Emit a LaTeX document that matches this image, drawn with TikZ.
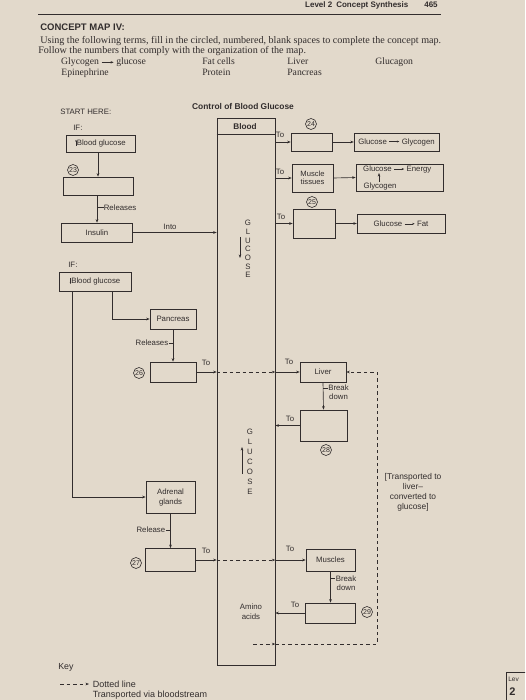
\documentclass[tikz,border=0pt]{standalone}
\usepackage{fontspec}
\setmainfont{Liberation Serif}
\setsansfont{Liberation Sans}
\usetikzlibrary{arrows.meta,calc}
\definecolor{paper}{RGB}{226,217,203}
\definecolor{ink}{RGB}{50,45,45}
\newcommand\rarr{\tikz[baseline=-0.6ex,x=1pt,y=1pt]\draw[-{Stealth[length=2.5pt,width=2pt]},line width=0.5pt,ink](0,0)--(10,0);}
\newcommand\uarr{\tikz[baseline=0pt,x=1pt,y=1pt]\draw[-{Stealth[length=1.8pt,width=1.6pt]},line width=0.5pt,ink](0,0)--(0,6);}
\newcommand\darr{\tikz[baseline=0pt,x=1pt,y=1pt]\draw[-{Stealth[length=1.8pt,width=1.6pt]},line width=0.5pt,ink](0,6)--(0,0);}
\begin{document}
\begin{tikzpicture}[x=1pt,y=-1pt,line width=0.65pt,color=ink,
  box/.style={draw=ink,rectangle,inner sep=0pt,font=\sffamily\fontsize{7.8}{9}\selectfont,align=center},
  num/.style={draw=ink,circle,inner sep=0pt,minimum size=11pt,line width=0.6pt,font=\sffamily\fontsize{7}{7}\selectfont},
  lab/.style={font=\sffamily\fontsize{7.8}{9}\selectfont,inner sep=0pt,align=center},
  arr/.style={-{Stealth[length=3.5pt,width=2.6pt]}},
  dashline/.style={dash pattern=on 3.5pt off 3pt,line width=0.75pt},
  serif/.style={font=\fontsize{10.1}{11}\selectfont,inner sep=0pt,anchor=base west},
  term/.style={font=\fontsize{9.7}{11}\selectfont,inner sep=0pt,anchor=base west}]
\useasboundingbox (0,0) rectangle (525,700);
\fill[paper] (0,0) rectangle (525,700);
\begin{scope}
\clip (0,0) rectangle (525,700);
% page header
\node[anchor=base east,inner sep=0pt,font=\sffamily\bfseries\fontsize{8}{8}\selectfont] (hdr) at (438,8) {Level 2\enspace Concept Synthesis\qquad 465};
\draw[line width=0.9pt] (38,14.5) -- (441,14.5);
\node[anchor=base west,inner sep=0pt,font=\sffamily\bfseries\fontsize{9.5}{10}\selectfont] (title) at (40,30.5) {CONCEPT MAP IV:};
\node[serif] (ins1) at (40,44) {Using the following terms, fill in the circled, numbered, blank spaces to complete the concept map.};
\node[serif] (ins2) at (38,53.5) {Follow the numbers that comply with the organization of the map.};
\node[term] (t1) at (61,65) {Glycogen \tikz[baseline=-0.6ex,x=1pt,y=1pt]\draw[-{Stealth[length=3pt,width=2.4pt]},line width=0.5pt,ink](0,0)--(12,0); glucose};
\node[term] (t2) at (61,76) {Epinephrine};
\node[term] (t3) at (202,65) {Fat cells};
\node[term] (t4) at (202,76) {Protein};
\node[term] (t5) at (287,65) {Liver};
\node[term] (t6) at (287,76) {Pancreas};
\node[term] (t7) at (375,65) {Glucagon};
% diagram titles
\node[lab,anchor=west] (start) at (60,111.5) {START HERE:};
\node[lab,font=\sffamily\bfseries\fontsize{8.4}{9}\selectfont] (ctitle) at (243,106.5) {Control of Blood Glucose};
% blood column
\node[draw=ink,rectangle,minimum width=58pt,minimum height=547pt,inner sep=0pt] (blood) at (246,391.5) {};
\draw ([yshift=-17pt]blood.north west) -- ([yshift=-17pt]blood.north east);
\node[lab,font=\sffamily\bfseries\fontsize{8.2}{9}\selectfont] (bloodlab) at (245,126.5) {Blood};
\node[lab,font=\sffamily\fontsize{7.8}{8.7}\selectfont] (glu1) at (248,249) {G\\L\\U\\C\\O\\S\\E};
\draw[arr,line width=0.55pt] (240,237) coordinate (ga1) -- (240,258) coordinate (ga2);
\node[lab,font=\sffamily\fontsize{7.8}{10}\selectfont] (glu2) at (250,462) {G\\L\\U\\C\\O\\S\\E};
\draw[arr,line width=0.55pt] (242,474) coordinate (gb1) -- (242,447) coordinate (gb2);
\node[lab,font=\sffamily\fontsize{7.8}{10}\selectfont] (amino) at (251,612) {Amino\\acids};
% upper left chain
\node[lab,anchor=west] (if1) at (73,128) {IF:};
\node[box,minimum width=69pt,minimum height=17pt] (bg1) at (100.5,143.5) {\uarr Blood glucose};
\node[num] (n23) at (73,170) {23};
\node[box,minimum width=70pt,minimum height=18pt] (b23) at (98,186) {};
\node[box,minimum width=71pt,minimum height=19pt] (insulin) at (97,232.5) {Insulin};
\draw[arr] (bg1.south -| b23.north) -- (b23.north);
\draw[arr] (b23.south -| insulin.north) -- (insulin.north);
\node[lab,anchor=west] (rel1) at (103.5,207.5) {Releases};
\draw (97,207.5) -- (rel1.west);
\draw[arr] (insulin.east) -- (insulin.east -| blood.west);
\node[lab] (into) at (170,227) {Into};
% right upper branches
\node[num] (n24) at (311,124) {24};
\node[box,minimum width=41pt,minimum height=18pt] (b24) at (311.5,142) {};
\node[box,minimum width=85pt,minimum height=18pt] (gg) at (396.5,142) {Glucose \rarr\ Glycogen};
\draw[arr] (b24.west -| blood.east) -- (b24.west);
\node[lab] (to1) at (280,135) {To};
\draw[arr] (b24.east) -- (gg.west);
\node[box,minimum width=41pt,minimum height=28pt,font=\sffamily\fontsize{7.6}{8.5}\selectfont] (mt) at (312.5,178) {Muscle\\tissues};
\node[box,minimum width=87pt,minimum height=27pt] (en) at (399.5,177.5) {};
\node[lab,anchor=west] (en1) at (363,169.5) {Glucose \rarr\ Energy};
\node[lab] (en2) at (380,186) {Glycogen};
\draw[arr,line width=0.5pt] (en2.north -| 379,0) -- (379,173);
\draw[arr] (mt.west -| blood.east) -- (mt.west);
\node[lab] (to2) at (280,172) {To};
\draw[arr] (mt.east) -- (en.west);
\node[num] (n25) at (312,202) {25};
\node[box,minimum width=42pt,minimum height=29pt] (b25) at (314,223.5) {};
\node[box,minimum width=88pt,minimum height=19pt] (fat) at (401,223.5) {Glucose \rarr\ Fat};
\draw[arr] (b25.west -| blood.east) -- (b25.west);
\node[lab] (to3) at (281,217) {To};
\draw[arr] (b25.east) -- (fat.west);
% lower left chain
\node[lab,anchor=west] (if2) at (68,264.5) {IF:};
\node[box,minimum width=72pt,minimum height=19pt] (bg2) at (95,281.5) {\darr Blood glucose};
\node[box,minimum width=46pt,minimum height=20pt] (pancreas) at (173,319) {Pancreas};
\draw[arr] ([xshift=54pt]bg2.south west) |- (pancreas.west);
\node[box,minimum width=46pt,minimum height=20pt] (b26) at (173,372) {};
\node[num] (n26) at (139,373) {26};
\draw[arr] (pancreas.south) -- (b26.north);
\node[lab,anchor=east] (rel2) at (168.5,343) {Releases};
\draw (rel2.east) -- (173,343);
\node[box,minimum width=49pt,minimum height=32pt,font=\sffamily\fontsize{7.8}{10}\selectfont] (adrenal) at (170.5,497) {Adrenal\\glands};
\draw[arr] ([xshift=14pt]bg2.south west) |- (adrenal.west);
\node[box,minimum width=50pt,minimum height=23pt] (b27) at (170.5,560) {};
\node[num] (n27) at (136,563) {27};
\draw[arr] (adrenal.south) -- (b27.north);
\node[lab,anchor=east] (rel3) at (165.5,530) {Release};
\draw (rel3.east) -- (170.5,530);
% liver branch
\node[box,minimum width=46pt,minimum height=20pt] (liver) at (323,372) {Liver};
\draw[arr] (b26.east) -- (b26.east -| blood.west);
\node[lab] (to4) at (206,363) {To};
\draw[arr,dashline] (b26.east -| blood.west) -- (b26.east -| blood.east);
\draw[arr] (b26.east -| blood.east) -- (liver.west);
\node[lab] (to5) at (289,362) {To};
\node[box,minimum width=47pt,minimum height=31pt] (b28) at (323.5,425.5) {};
\node[num] (n28) at (326,450) {28};
\draw[arr] (liver.south) -- (b28.north);
\node[lab,anchor=west] (bd1) at (328,392.5) {Break\\down};
\draw (323,388) -- (327.5,388);
\draw[arr] (b28.west) -- (b28.west -| blood.east);
\node[lab] (to6) at (290,419) {To};
% muscles branch
\node[box,minimum width=49pt,minimum height=22pt] (muscles) at (330.5,560) {Muscles};
\draw[arr] (b27.east) -- (b27.east -| blood.west);
\node[lab] (to7) at (206,551) {To};
\draw[arr,dashline] (b27.east -| blood.west) -- (b27.east -| blood.east);
\draw[arr] (b27.east -| blood.east) -- (muscles.west);
\node[lab] (to8) at (290,549) {To};
\node[box,minimum width=50pt,minimum height=20pt] (b29) at (330.5,613) {};
\node[num] (n29) at (367,612) {29};
\draw[arr] (muscles.south) -- (b29.north);
\node[lab,anchor=west] (bd2) at (335.5,583) {Break\\down};
\draw (330.5,578.5) -- (335,578.5);
\draw[arr] (b29.west) -- (b29.west -| blood.east);
\node[lab] (to9) at (295,605) {To};
% dashed return line
\coordinate (am) at (253,644);
\coordinate (dl) at (377,644);
\draw[arr,dashline] (am) -- (am -| blood.east);
\draw[arr,dashline] (am -| blood.east) -- (dl) |- (liver.east);
\node[lab,font=\sffamily\fontsize{8.4}{10}\selectfont] (transp) at (413,492) {[Transported to\\liver--\\converted to\\glucose]};
% key
\node[lab,anchor=west,font=\sffamily\fontsize{8.8}{9}\selectfont] (key) at (58,667) {Key};
\coordinate (k1) at (60,684);
\coordinate (k2) at (89,684);
\draw[arr,dashline] (k1) -- (k2);
\node[lab,anchor=west,font=\sffamily\fontsize{9}{9}\selectfont] (kd) at (92.5,684) {Dotted line};
\node[lab,anchor=west,font=\sffamily\fontsize{9}{9}\selectfont] (kt) at (92.5,695) {Transported via bloodstream};
% tab
\draw[line width=0.8pt] (506,672) rectangle (532,706);
\node[lab,anchor=west,font=\sffamily\fontsize{6.5}{6.5}\selectfont] (lev) at (508,679) {Lev};
\node[lab,anchor=west,font=\sffamily\bfseries\fontsize{11}{11}\selectfont] (lev2) at (509,692) {2};
\end{scope}
\end{tikzpicture}
\end{document}
